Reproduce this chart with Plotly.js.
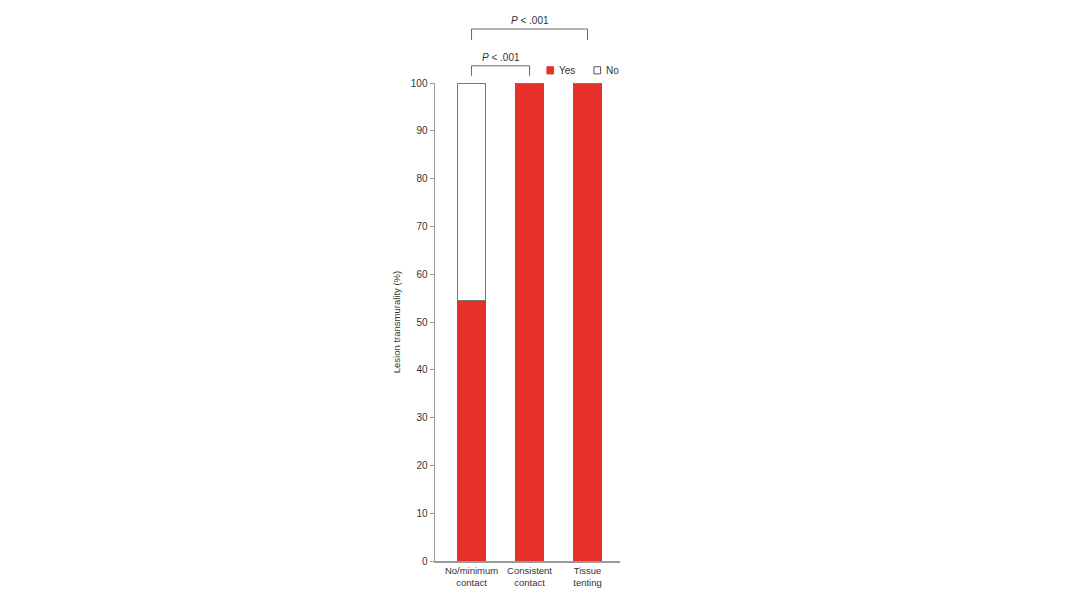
<!DOCTYPE html>
<html>
<head>
<meta charset="utf-8">
<script src="https://cdn.plot.ly/plotly-3.0.1.min.js"></script>
<style>
  html, body { margin: 0; padding: 0; background: #fff; }
  #chart { width: 1080px; height: 607px; }
</style>
</head>
<body>
<div id="chart"></div>
<script>
// categories and percentages of transmural lesions
var categories = ['No/minimum<br>contact', 'Consistent<br>contact', 'Tissue<br>tenting'];
var yes_pct = [54.5, 100, 100];
var no_pct = [45.5, 0, 0];
var y_ticks = [0, 10, 20, 30, 40, 50, 60, 70, 80, 90, 100];
var p_labels = ['<i>P</i> < .001', '<i>P</i> < .001'];
var legend_names = ['Yes', 'No'];

var red = '#e8302a';
var grey = '#9a9a9a';
var txt = '#333333';

var trace_yes = {
  x: [0, 1, 2],
  y: yes_pct,
  name: legend_names[0],
  type: 'bar',
  marker: { color: red, line: { color: red, width: 1 } },
  hoverinfo: 'none'
};

var trace_no = {
  x: [0, 1, 2],
  y: no_pct,
  name: legend_names[1],
  type: 'bar',
  marker: { color: '#ffffff', line: { color: '#777777', width: 1 } },
  hoverinfo: 'none'
};

// brackets drawn above the plot, y in paper units past 1
var brackets = [
  { a: 0, b: 1, top: 1.036, leg: 1.015 },
  { a: 0, b: 2, top: 1.113, leg: 1.090 }
];
var shapes = [];
var annotations = [];
brackets.forEach(function (br, i) {
  shapes.push({ type: 'path', xref: 'x', yref: 'paper',
    path: 'M ' + br.a + ',' + br.leg + ' L ' + br.a + ',' + br.top + ' L ' + br.b + ',' + br.top + ' L ' + br.b + ',' + br.leg,
    line: { color: '#666666', width: 1 } });
  annotations.push({ x: (br.a + br.b) / 2, y: br.top, xref: 'x', yref: 'paper',
    text: p_labels[i], showarrow: false, yanchor: 'bottom', yshift: 1,
    font: { family: 'Liberation Sans, Arial', size: 10, color: txt } });
});

// small legend: square then name, packed tight like the original
var legend_fill = [red, '#ffffff'];
var legend_edge = [red, '#555555'];
var legend_x = [0.605, 0.859];
legend_names.forEach(function (nm, i) {
  shapes.push({ type: 'rect', xref: 'paper', yref: 'paper',
    x0: legend_x[i], x1: legend_x[i] + 0.036, y0: 1.019, y1: 1.034,
    fillcolor: legend_fill[i], line: { color: legend_edge[i], width: 1 } });
  annotations.push({ x: legend_x[i] + 0.055, y: 1.0265, xref: 'paper', yref: 'paper',
    text: nm, showarrow: false, xanchor: 'left', yanchor: 'middle',
    font: { family: 'Liberation Sans, Arial', size: 10, color: txt } });
});

var layout = {
  width: 1080,
  height: 607,
  margin: { l: 435, r: 460, t: 83, b: 46 },
  paper_bgcolor: '#ffffff',
  plot_bgcolor: '#ffffff',
  barmode: 'stack',
  bargap: 0.53,
  font: { family: 'Liberation Sans, Arial', size: 10, color: txt },
  showlegend: false,
  xaxis: {
    range: [-0.63, 2.56],
    tickvals: [0, 1, 2],
    ticktext: categories,
    showgrid: false,
    zeroline: false,
    showline: true,
    linecolor: grey,
    linewidth: 1.5,
    ticks: '',
    tickfont: { size: 9.5, color: txt },
    fixedrange: true
  },
  yaxis: {
    range: [0, 100],
    tickvals: y_ticks,
    showgrid: false,
    zeroline: false,
    showline: true,
    linecolor: grey,
    linewidth: 1.5,
    ticks: 'outside',
    ticklen: 4,
    tickcolor: grey,
    tickfont: { size: 10, color: txt },
    title: { text: 'Lesion transmurality (%)', font: { size: 9.5, color: txt }, standoff: 8 },
    fixedrange: true
  },
  shapes: shapes,
  annotations: annotations
};

Plotly.newPlot('chart', [trace_yes, trace_no], layout, { displayModeBar: false, staticPlot: true });
</script>
</body>
</html>
